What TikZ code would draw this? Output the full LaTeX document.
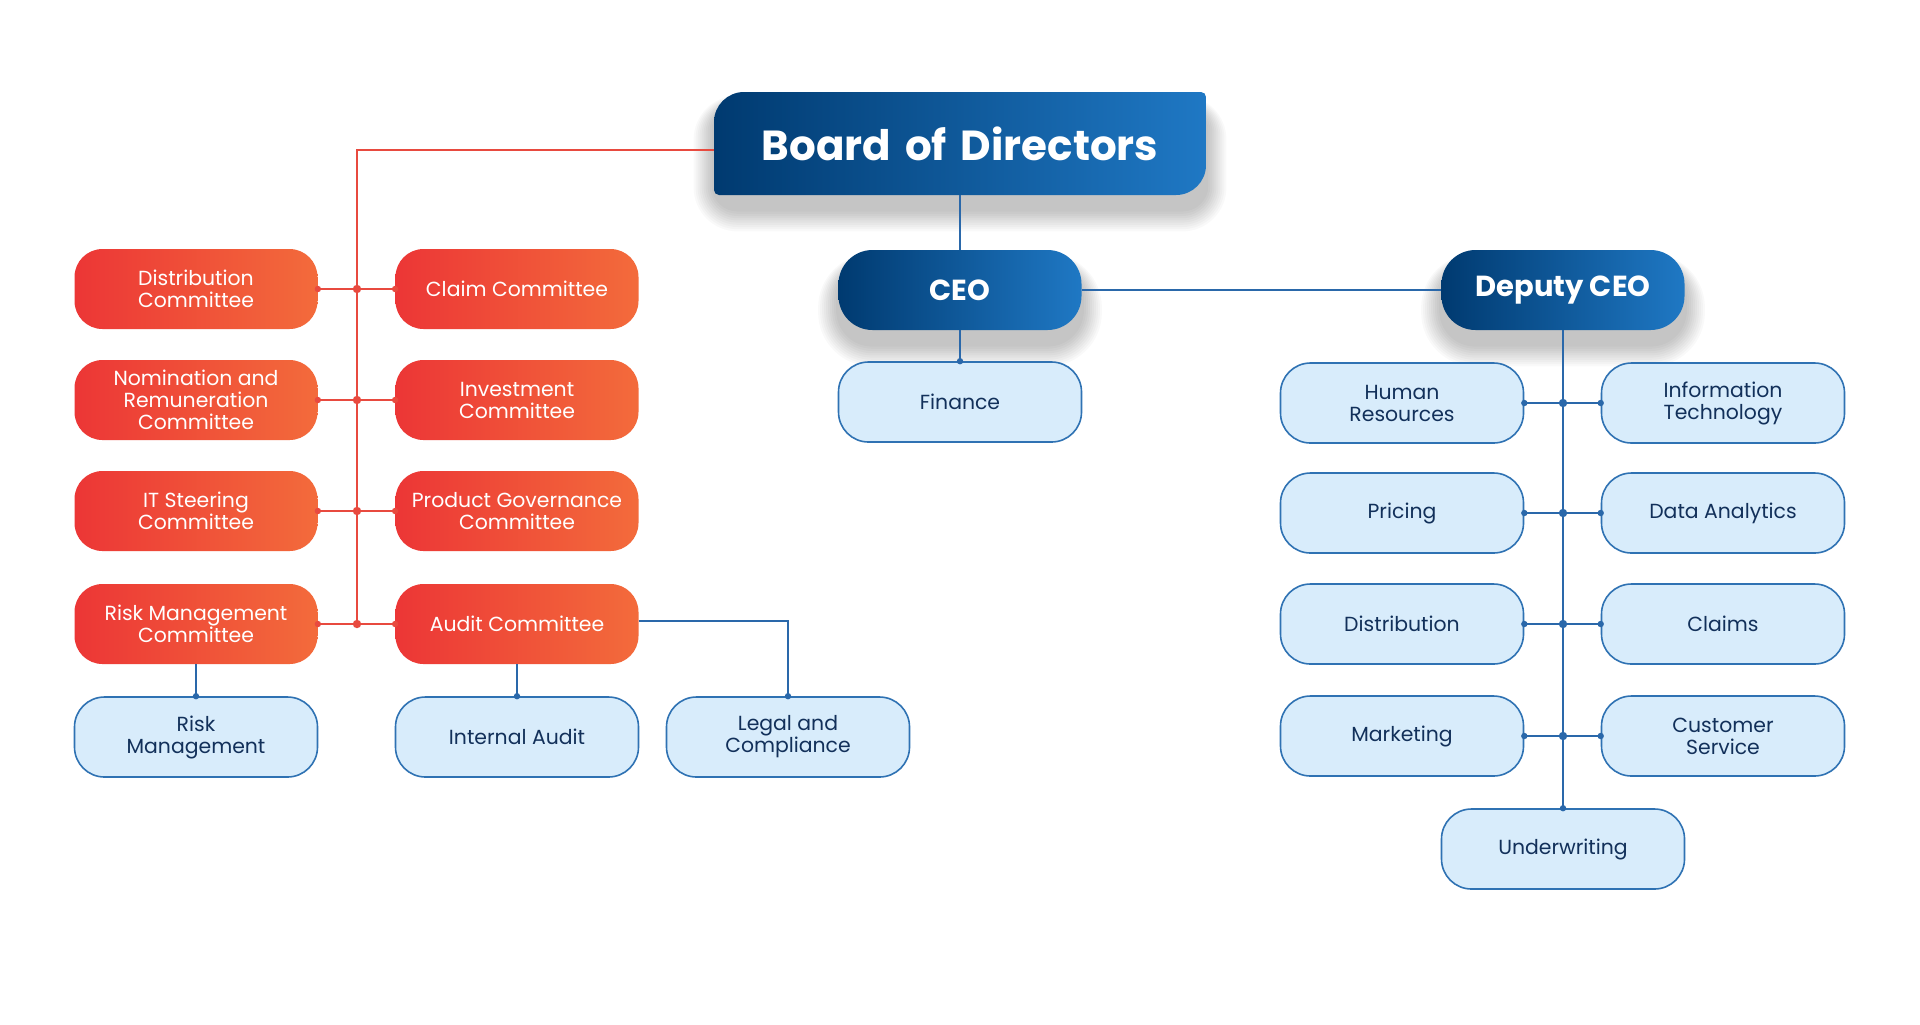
\documentclass[tikz,border=0pt]{standalone}
\usepackage{fontspec}
\setmainfont{Poppins}
\definecolor{darkL}{HTML}{003A70}
\definecolor{darkR}{HTML}{1F78C4}
\definecolor{redL}{HTML}{EC3636}
\definecolor{redR}{HTML}{F36B3B}
\definecolor{lightfill}{HTML}{D8ECFB}
\definecolor{lightborder}{HTML}{2F72B3}
\definecolor{navy}{HTML}{12305A}
\definecolor{redline}{HTML}{E84A3F}
\definecolor{blueline}{HTML}{2A68AA}
\pgfdeclarelayer{bg}
\pgfsetlayers{bg,main}
\newcommand\mysoftshadow[2]{%
  \begin{pgfonlayer}{bg}
  \foreach \k in {1,...,10}{%
    \pgfmathsetmacro\rr{#2+\k}%
    \pgfmathsetmacro\tt{-7+0.5*\k}%
    \pgfmathsetmacro\bb{-7-1.1*\k}%
    \fill[black, opacity=0.022, rounded corners=\rr pt]
      ([xshift=-\k pt, yshift=\tt pt]#1.north west) rectangle ([xshift=\k pt, yshift=\bb pt]#1.south east);
  }
  \end{pgfonlayer}}
\begin{document}
\begin{tikzpicture}[x=0.5pt,y=-0.5pt,
  basebox/.style={minimum width=121.5pt, minimum height=40pt, inner sep=0pt, align=center},
  redbox/.style={basebox, rounded corners=14pt, left color=redL, right color=redR, text=white,
     font=\fontsize{10.2}{11}\selectfont},
  lightbox/.style={basebox, rounded corners=15pt, fill=lightfill, draw=lightborder, line width=0.8pt,
     text=navy, font=\fontsize{10.2}{11}\selectfont},
  darkbox/.style={basebox, rounded corners=17pt, left color=darkL, right color=darkR, text=white,
     font=\fontsize{14.5}{16}\selectfont\bfseries},
  rline/.style={draw=redline, line width=1pt},
  bline/.style={draw=blueline, line width=1pt},
  rdot/.style={fill=redline},
  bdot/.style={fill=blueline}]
\begin{pgfonlayer}{bg}
\useasboundingbox[fill=white] (0,0) rectangle (1920,1024);
\end{pgfonlayer}

% Board of Directors shape
\path[left color=darkL, right color=darkR]
  (714,122) .. controls (714,105.44) and (727.44,92) .. (744,92)
  -- (1201,92) .. controls (1203.76,92) and (1206,94.24) .. (1206,97)
  -- (1206,165) .. controls (1206,181.56) and (1192.56,195) .. (1176,195)
  -- (719,195) .. controls (716.24,195) and (714,192.76) .. (714,190) -- cycle;
\node (board) [minimum width=246pt, minimum height=51.5pt, inner sep=0pt, text=white,
  font=\fontsize{21}{23}\selectfont\bfseries] at (960,143.5) {Board\hspace{0.12em} of\hspace{0.12em} Directors};

% dark boxes
\node[darkbox] (ceo) at (960,290) {CEO};
\node[darkbox] (deputy) at (1563,290) {Deputy CEO};
\node[lightbox] (finance) at (960,402) {Finance};

\mysoftshadow{board}{12}
\mysoftshadow{ceo}{17}
\mysoftshadow{deputy}{17}

% committees
\node[redbox] (dc) at (196,289) {Distribution\\Committee};
\node[redbox] (cc) at (517,289) {Claim Committee};
\node[redbox] (nr) at (196,400) {Nomination and\\Remuneration\\Committee};
\node[redbox] (ic) at (517,400) {Investment\\Committee};
\node[redbox] (itc) at (196,511) {IT Steering\\Committee};
\node[redbox] (pg) at (517,511) {Product Governance\\Committee};
\node[redbox] (rmc) at (196,624) {Risk Management\\Committee};
\node[redbox] (ac) at (517,624) {Audit Committee};

\node[lightbox] (rmg) at (196,737) {Risk\\Management};
\node[lightbox] (ia) at (517,737) {Internal Audit};
\node[lightbox] (lc) at (788,737) {Legal and\\Compliance};

% departments
\node[lightbox] (hr) at (1402,403) {Human\\Resources};
\node[lightbox] (inft) at (1723,403) {Information\\Technology};
\node[lightbox] (pr) at (1402,513) {Pricing};
\node[lightbox] (da) at (1723,513) {Data Analytics};
\node[lightbox] (di) at (1402,624) {Distribution};
\node[lightbox] (cl) at (1723,624) {Claims};
\node[lightbox] (mk) at (1402,736) {Marketing};
\node[lightbox] (cs) at (1723,736) {Customer\\Service};
\node[lightbox] (uw) at (1563,849) {Underwriting};

% red connectors
\coordinate (rtop) at (357,150);
\draw[rline] (board.west |- rtop) -- (rtop) -- (rtop |- rmc.east);
\foreach \a/\b in {dc/cc, nr/ic, itc/pg, rmc/ac} {
  \draw[rline] (\a.east) -- (\b.west);
  \fill[rdot] (\a.east) circle[radius=1.6pt];
  \fill[rdot] (\b.west) circle[radius=1.6pt];
  \fill[rdot] (rtop |- \a.east) circle[radius=2.1pt];
}

% blue connectors, left
\draw[bline] (rmc.south) -- (rmg.north);
\fill[bdot] (rmg.north) circle[radius=1.6pt];
\draw[bline] (ac.south) -- (ia.north);
\fill[bdot] (ia.north) circle[radius=1.6pt];
\draw[bline] ([yshift=1.5pt]ac.east) -| (lc.north);
\fill[bdot] (lc.north) circle[radius=1.6pt];

% CEO connectors
\draw[bline] (board.south) -- (ceo.north);
\draw[bline] (ceo.south) -- (finance.north);
\fill[bdot] (finance.north) circle[radius=1.6pt];
\draw[bline] (ceo.east) -- (deputy.west);

% deputy connectors
\draw[bline] (deputy.south) -- (uw.north);
\fill[bdot] (uw.north) circle[radius=1.6pt];
\foreach \a/\b in {hr/inft, pr/da, di/cl, mk/cs} {
  \draw[bline] (\a.east) -- (\b.west);
  \fill[bdot] (\a.east) circle[radius=1.6pt];
  \fill[bdot] (\b.west) circle[radius=1.6pt];
  \fill[bdot] (deputy.south |- \a.east) circle[radius=2.1pt];
}
\end{tikzpicture}
\end{document}
